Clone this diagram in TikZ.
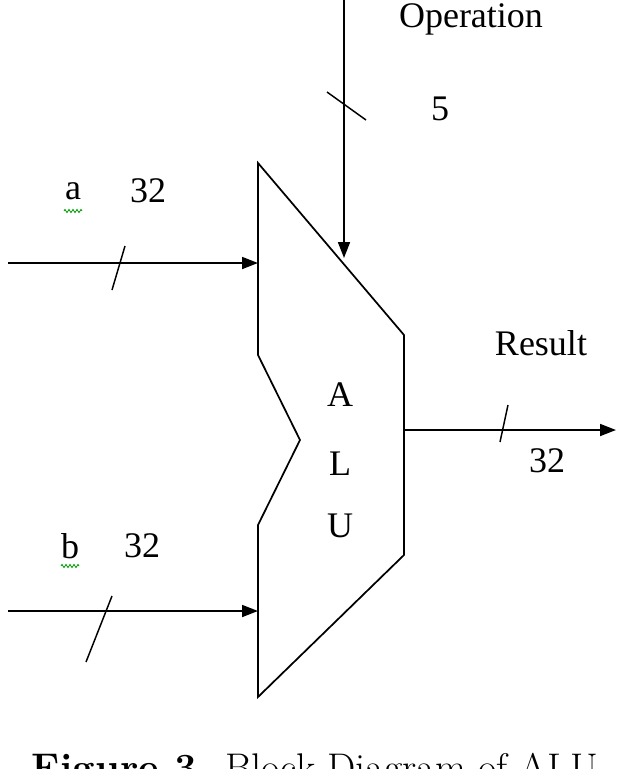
\documentclass[tikz,border=0pt]{standalone}
\usepackage{fontspec}
\setmainfont{Liberation Serif}
\newfontfamily\lmfont{Latin Modern Roman}
\usetikzlibrary{arrows.meta,decorations.pathmorphing}
\begin{document}
\begin{tikzpicture}[x=0.75pt,y=-0.75pt,
  wire/.style={line width=1.3pt,-{Triangle[length=12pt,width=9pt]}},
  tick/.style={line width=1.1pt},
  lbl/.style={font=\fontsize{27}{31}\selectfont,inner sep=0pt},
  squig/.style={green!60!black,line width=0.6pt,decorate,decoration={zigzag,segment length=3pt,amplitude=1.2pt}}]
\useasboundingbox (0,0) rectangle (631,769);
\clip (0,0) rectangle (631,769);
\draw[line width=1.3pt] (258,163) -- (404,335) -- (404,555) -- (258,697) -- (258,525) -- (300,440) -- (258,355) -- cycle;
\coordinate (ain) at (8,263); \coordinate (aend) at (258,263);
\coordinate (bin) at (8,611); \coordinate (bend) at (258,611);
\coordinate (opin) at (344,0); \coordinate (opend) at (344,258);
\coordinate (rout) at (404,430); \coordinate (rend) at (616,430);
\draw[wire] (ain) -- (aend);
\draw[wire] (bin) -- (bend);
\draw[wire] (opin) -- (opend);
\draw[wire] (rout) -- (rend);
\draw[tick] (112,290) -- (125,246);
\draw[tick] (86,662) -- (112,596);
\draw[tick] (327,92) -- (366,120);
\draw[tick] (500,442) -- (508,405);
\node[lbl] (op) at (471,19) {Operation};
\node[lbl] (five) at (440,109) {5};
\node[lbl] (a) at (73,191) {a};
\node[lbl] (a32) at (148,191) {32};
\node[lbl] (b) at (70,546) {b};
\node[lbl] (b32) at (142,546) {32};
\node[lbl] (res) at (541,343) {Result};
\node[lbl] (r32) at (547,461) {32};
\node[lbl] (A) at (340,395) {A};
\node[lbl] (L) at (340,464) {L};
\node[lbl] (U) at (340,526) {U};
\draw[squig] (64,211) -- (82,211);
\draw[squig] (61,566) -- (79,566);
\node[anchor=base,inner sep=0pt,font=\lmfont\fontsize{30}{34}\selectfont] (cap) at (315,781) {\textbf{Figure 3.} Block Diagram of ALU};
\end{tikzpicture}
\end{document}
